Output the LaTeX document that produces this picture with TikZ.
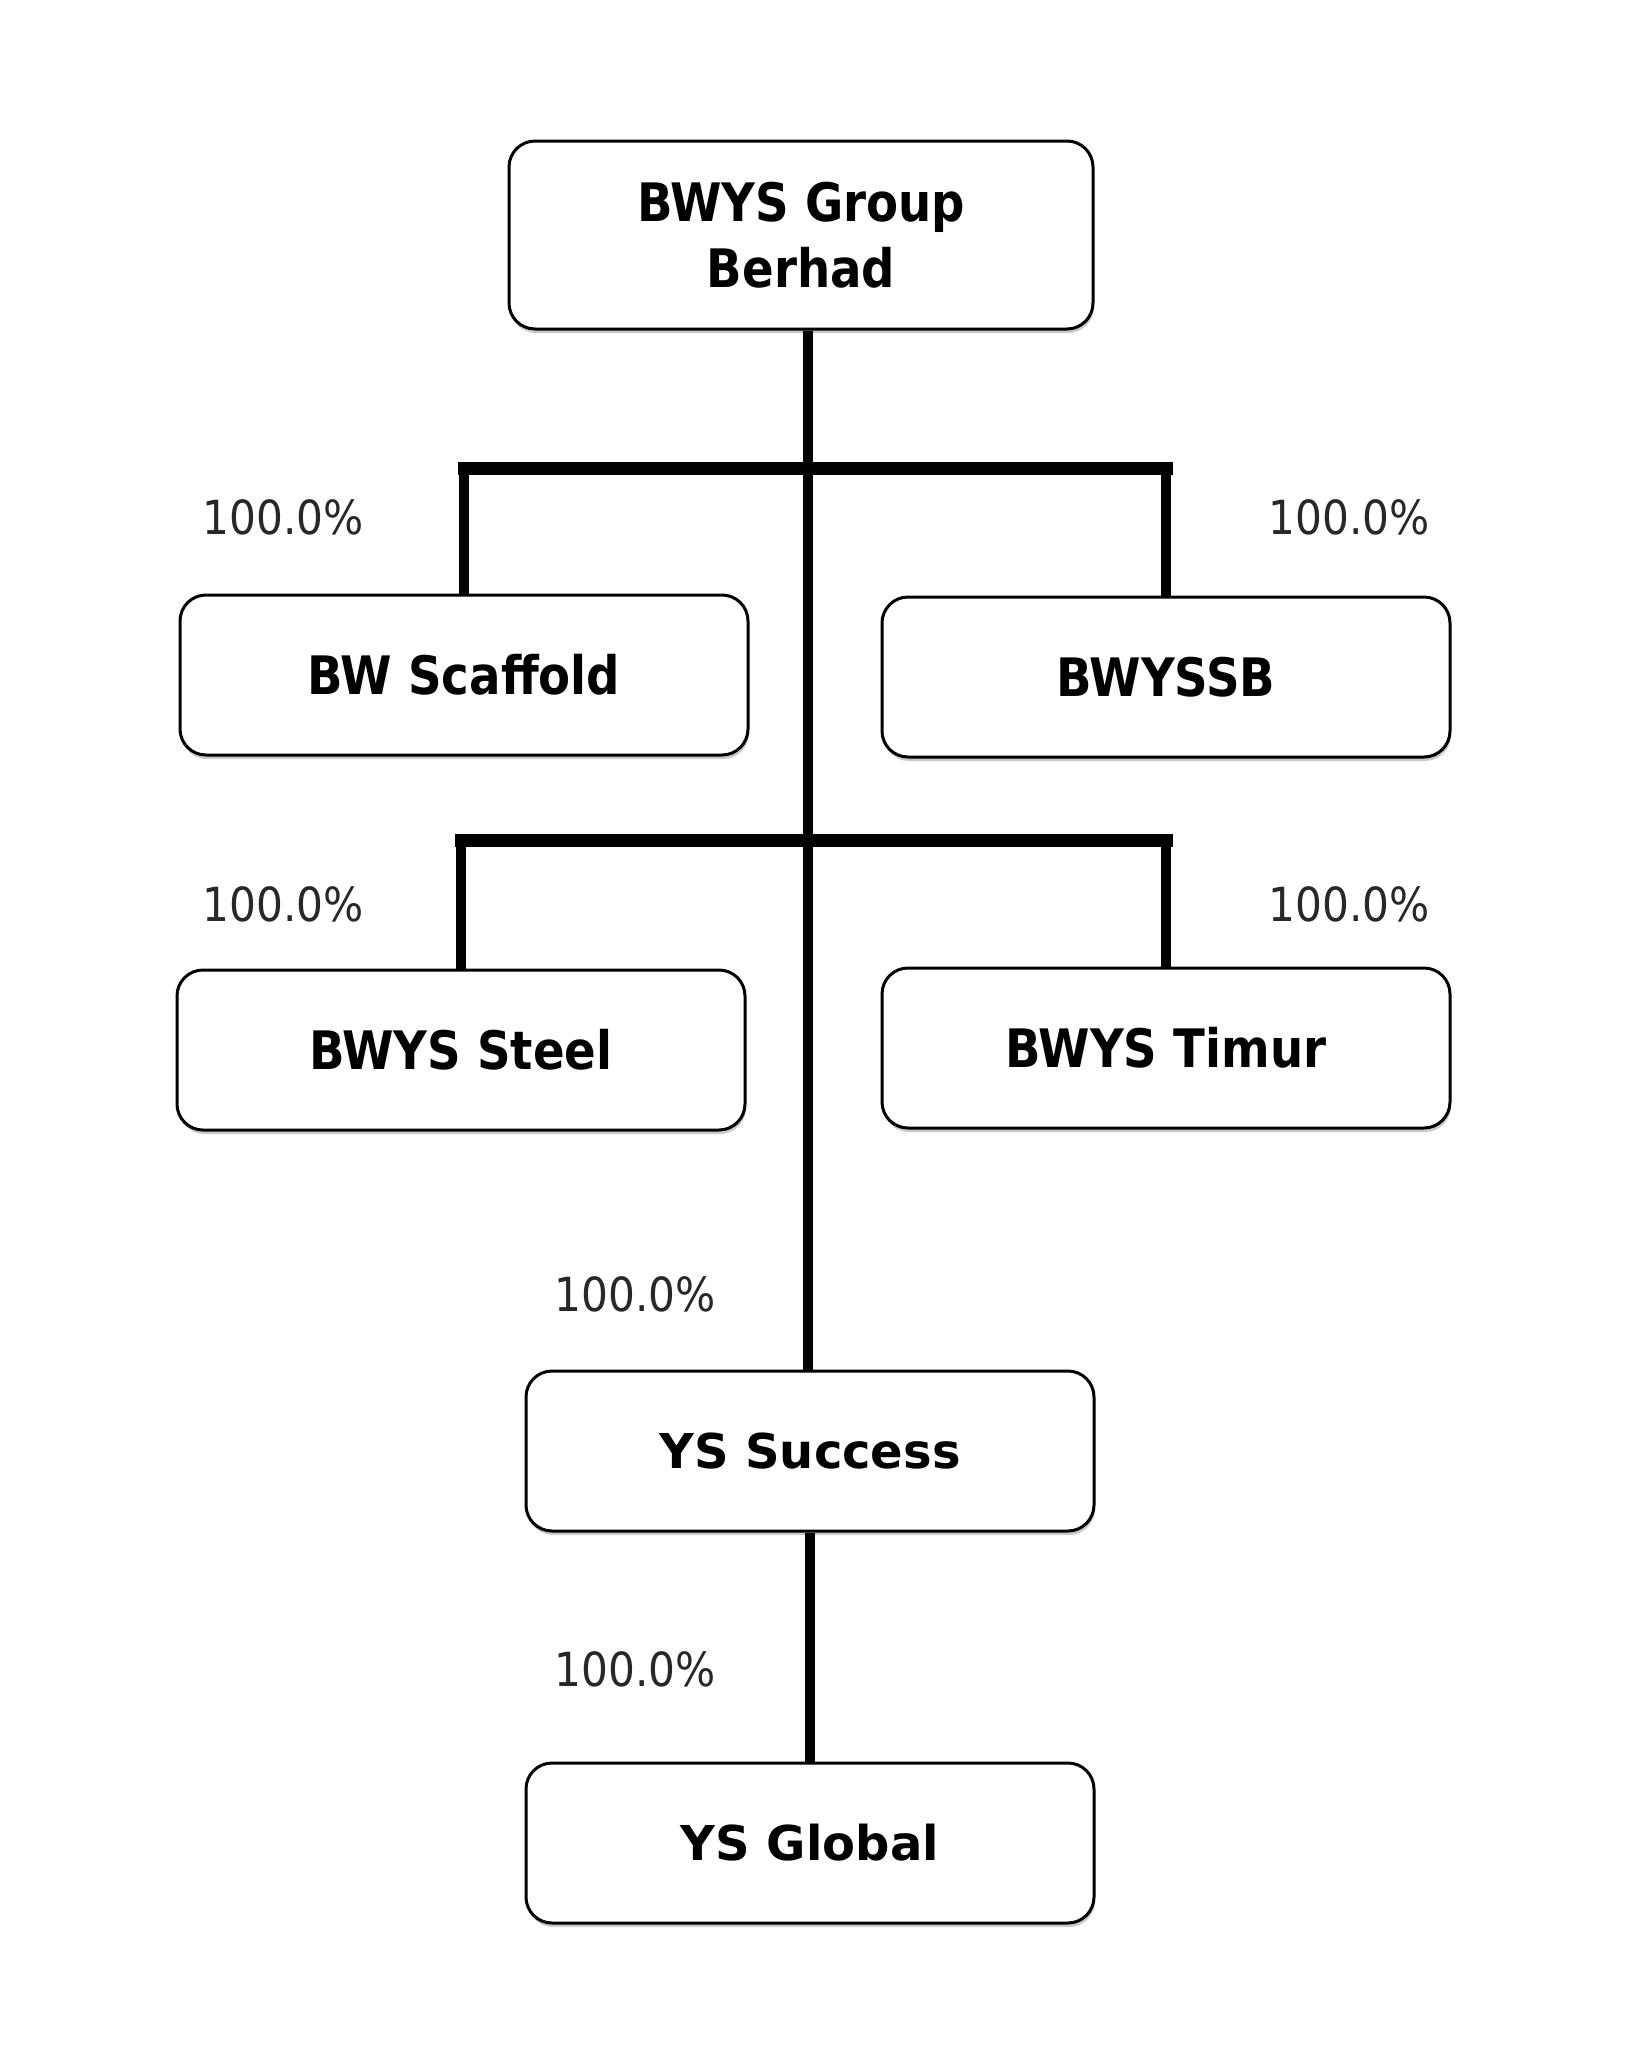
\documentclass[tikz,border=0pt]{standalone}
\usepackage{fontspec}
\setmainfont{DejaVu Sans}
\newfontfamily\boxfont{DejaVu Sans}[FakeStretch=0.88]
\newfontfamily\pctfont{DejaVu Sans Condensed}
\usetikzlibrary{shadows}
\definecolor{pctgray}{RGB}{40,40,40}
\tikzset{
  orgbox/.style={draw=black, line width=3pt, rounded corners=26pt, fill=white,
    minimum width=568pt, minimum height=160pt, align=center,
    font=\boxfont\bfseries\fontsize{53}{64}\selectfont,
    drop shadow={shadow xshift=1pt, shadow yshift=-4pt, fill=black!35, opacity=0.6}},
  conn/.style={draw=black, line width=10pt},
  barline/.style={draw=black, line width=13pt, line cap=rect},
  pct/.style={font=\pctfont\fontsize{47}{54}\selectfont, text=pctgray}
}
\begin{document}
\begin{tikzpicture}[x=1pt,y=-1pt]
\useasboundingbox (0,0) rectangle (1634,2048);
\fill[white] (0,0) rectangle (1634,2048);

\coordinate (b1) at (808,468);
\coordinate (b2) at (808,840);

\node[orgbox, minimum width=584pt, minimum height=188pt] (top) at (801,235) {BWYS Group\\[2pt]Berhad};
\node[orgbox] (bwsc) at (464,675) {BW Scaffold};
\node[orgbox] (bwssb) at (1166,677) {BWYSSB};
\node[orgbox] (bwst) at (461,1050) {BWYS Steel};
\node[orgbox] (bwti) at (1166,1048) {BWYS Timur};
\node[orgbox, font=\bfseries\fontsize{48}{58}\selectfont] (yss) at (810,1451) {YS Success};
\node[orgbox, font=\bfseries\fontsize{48}{58}\selectfont] (ysg) at (810,1843) {YS Global};

\draw[conn] (top.south -| b1) -- (yss.north -| b1);
\draw[barline] (bwsc.north |- b1) -- (bwssb.north |- b1);
\draw[conn] (bwsc.north |- b1) -- (bwsc.north);
\draw[conn] (bwssb.north |- b1) -- (bwssb.north);
\draw[barline] (bwst.north |- b2) -- (bwti.north |- b2);
\draw[conn] (bwst.north |- b2) -- (bwst.north);
\draw[conn] (bwti.north |- b2) -- (bwti.north);
\draw[conn] (yss.south) -- (ysg.north);

\node[pct] (p1) at (283,517) {100.0\%};
\node[pct] (p2) at (1349,517) {100.0\%};
\node[pct] (p3) at (283,904) {100.0\%};
\node[pct] (p4) at (1349,904) {100.0\%};
\node[pct] (p5) at (635,1294) {100.0\%};
\node[pct] (p6) at (635,1669) {100.0\%};
\end{tikzpicture}
\end{document}
